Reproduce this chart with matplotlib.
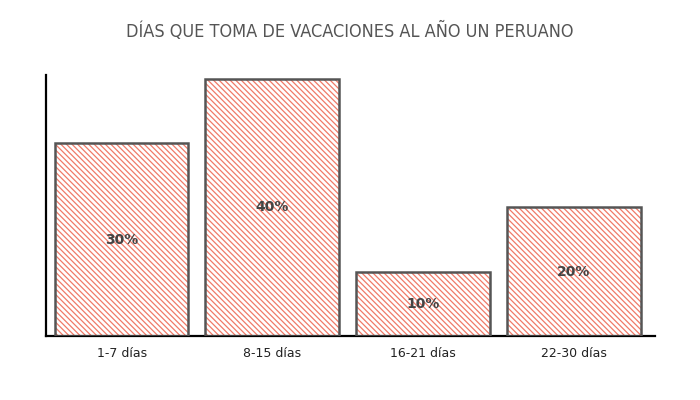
import matplotlib
matplotlib.use("Agg")
import matplotlib.pyplot as plt

categorias = ["1-7 días", "8-15 días", "16-21 días", "22-30 días"]
porcentajes = [30, 40, 10, 20]
etiquetas = ["30%", "40%", "10%", "20%"]
titulo = "Días que toma de vacaciones al año un peruano"

plt.rcParams["hatch.linewidth"] = 0.9
fig = plt.figure(figsize=(7, 4), dpi=100)
ax = fig.add_axes([0.066, 0.16, 0.87, 0.6525])
x = range(len(categorias))
# hatch layer + outline layer
ax.bar(x, porcentajes, width=0.887, color="white", edgecolor="#f07a68",
       hatch="\\\\\\\\\\\\", linewidth=0, zorder=2)
ax.bar(x, porcentajes, width=0.887, fill=False, edgecolor="#555555",
       linewidth=1.8, zorder=3)
for i, (v, t) in enumerate(zip(porcentajes, etiquetas)):
    ax.text(i, v / 2, t, ha="center", va="center", fontsize=10,
            color="#444444", fontweight="bold", zorder=4)
ax.set_xlim(-0.5, 3.54)
ax.set_ylim(0, 40.6)
ax.set_yticks([])
ax.set_xticks(list(x))
ax.set_xticklabels(categorias, fontsize=9, color="#222222")
ax.tick_params(axis="x", length=0, pad=8)
for s in ("top", "right"):
    ax.spines[s].set_visible(False)
ax.spines["left"].set_linewidth(1.6)
ax.spines["bottom"].set_linewidth(1.6)
fig.text(0.5, 0.922, titulo.upper(), ha="center", va="center", fontsize=13,
         color="#555555", family="DejaVu Sans", fontstretch="condensed")
fig.savefig("out.png", dpi=100)
